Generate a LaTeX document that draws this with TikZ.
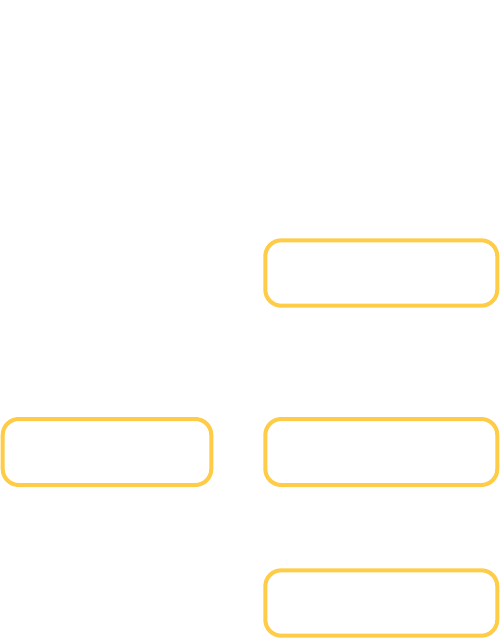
\documentclass[tikz,border=0pt]{standalone}
\definecolor{boxgold}{RGB}{255,204,72}
\tikzset{
  ybox/.style={draw=boxgold, line width=4pt, rounded corners=16pt, inner sep=0pt, fill=white}
}
\begin{document}
\begin{tikzpicture}[x=1pt,y=-1pt]
\useasboundingbox (0,0) rectangle (500,640);
\node[ybox, minimum width=232pt, minimum height=65.4pt] (b1) at (381.3,273) {};
\node[ybox, minimum width=208.6pt, minimum height=66pt] (b2) at (107,452) {};
\node[ybox, minimum width=232pt, minimum height=66pt] (b3) at (381.3,452) {};
\node[ybox, minimum width=232pt, minimum height=65.4pt] (b4) at (381.3,603) {};
\end{tikzpicture}
\end{document}
